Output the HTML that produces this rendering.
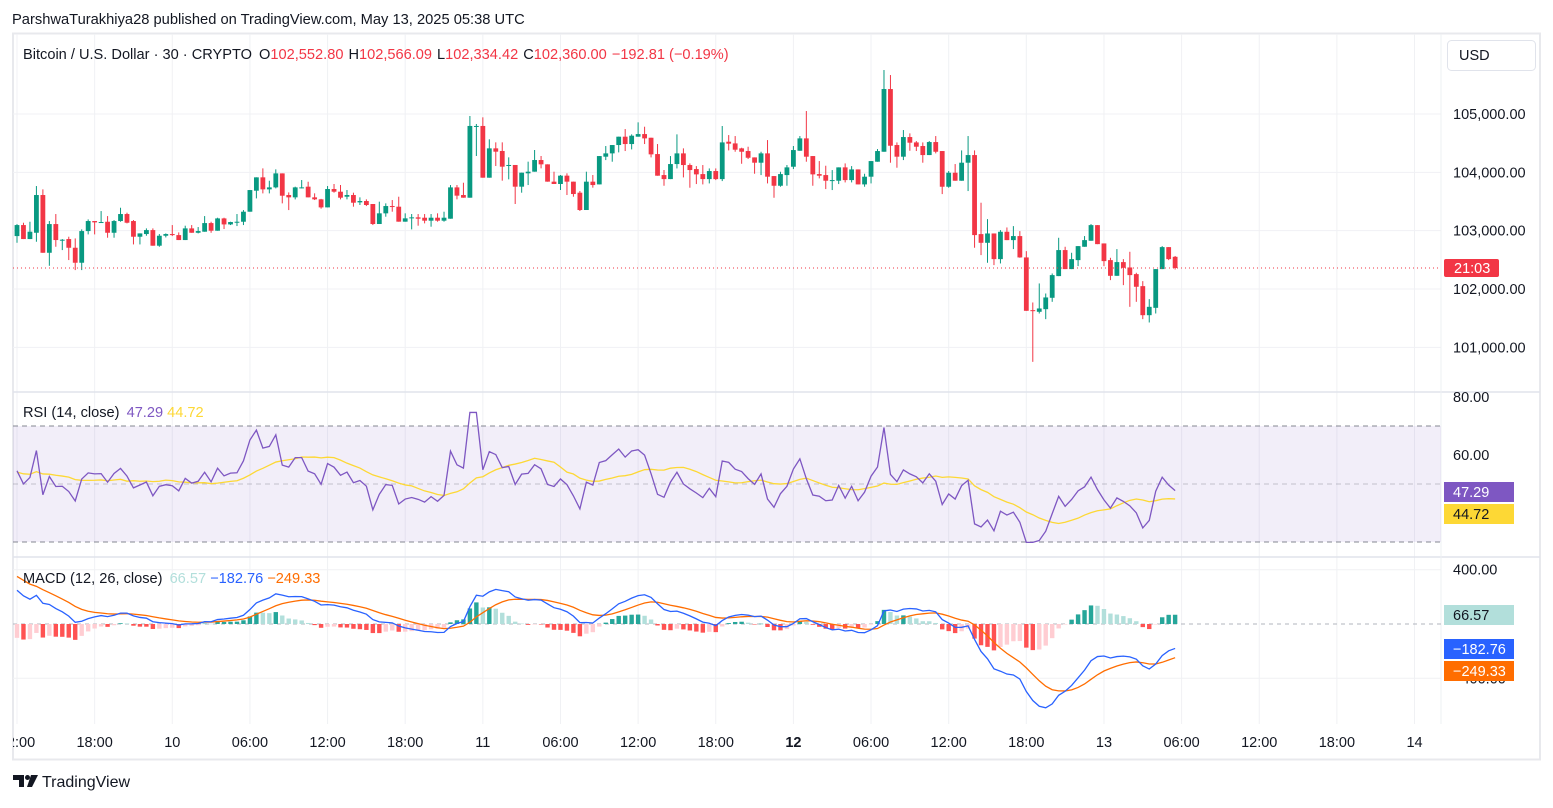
<!DOCTYPE html>
<html><head><meta charset="utf-8">
<style>
html,body{margin:0;padding:0;background:#fff;}
body{width:1553px;height:803px;overflow:hidden;font-family:"Liberation Sans","DejaVu Sans",sans-serif;}
svg text{font-family:"Liberation Sans","DejaVu Sans",sans-serif;}
</style></head>
<body>
<svg id="chart" width="1553" height="803" viewBox="0 0 1553 803" xmlns="http://www.w3.org/2000/svg">
<defs><clipPath id="plotclip"><rect x="13" y="34" width="1428" height="724"/></clipPath></defs>
<text x="12" y="24" font-size="14.7" fill="#131722">ParshwaTurakhiya28 published on TradingView.com, May 13, 2025 05:38 UTC</text>
<rect x="13" y="33.5" width="1527" height="726" fill="none" stroke="#e8e9ed" stroke-width="2"/>
<g id="grid"></g>
<g id="plot" clip-path="url(#plotclip)"></g>
<g id="axes"></g>
<g font-size="14.6">
<text x="23" y="59" fill="#131722">Bitcoin / U.S. Dollar · 30 · CRYPTO <tspan dx="3">O</tspan><tspan fill="#f23645">102,552.80</tspan><tspan dx="5">H</tspan><tspan fill="#f23645">102,566.09</tspan><tspan dx="5">L</tspan><tspan fill="#f23645">102,334.42</tspan><tspan dx="5">C</tspan><tspan fill="#f23645">102,360.00</tspan><tspan dx="5" fill="#f23645">−192.81 (−0.19%)</tspan></text>
</g>
<g font-size="14.6">
<text x="23" y="417" fill="#131722">RSI (14, close) <tspan dx="3" fill="#7e57c2">47.29</tspan><tspan dx="4" fill="#fdd835">44.72</tspan></text>
</g>
<g font-size="14.6">
<text x="23" y="583" fill="#131722">MACD (12, 26, close) <tspan dx="3" fill="#b2dfdb">66.57</tspan><tspan dx="4" fill="#2962ff">−182.76</tspan><tspan dx="4" fill="#ff6d00">−249.33</tspan></text>
</g>
<g>
<rect x="1447.5" y="40.5" width="88" height="30" rx="4" fill="#fff" stroke="#e0e3eb"/>
<text x="1459" y="60" font-size="14.5" fill="#131722">USD</text>
</g>
<g>
<path d="M13 775h11v12h-5v-7h-6z" fill="#131722"/>
<circle cx="27.5" cy="777.5" r="2.5" fill="#131722"/>
<path d="M31 775h7l-6 12h-5z" fill="#131722"/>
<text x="42" y="787" font-size="16" fill="#131722">TradingView</text>
</g>
</svg>
<script>
const opens=[102907,103096,102856,102964,103611,102621,103113,102839,102856,102707,102450,102993,103165,103142,103153,102964,103165,103285,103165,102896,102942,103010,102742,102913,102942,102924,102839,103039,102964,102982,103130,102999,103210,103107,103136,103153,103325,103685,103914,103708,103742,103982,103611,103571,103742,103754,103571,103537,103399,103714,103668,103582,103611,103485,103508,103457,103114,103297,103422,103411,103154,103228,103228,103222,103171,103222,103171,103205,103742,103611,103565,104795,104795,103908,104411,104366,104126,104126,103754,103983,104011,104211,104137,103840,103800,103943,103840,103651,103354,103840,103793,104268,104325,104468,104611,104485,104611,104656,104593,104313,103953,103884,104142,104325,104125,104056,103970,103884,104022,103884,104525,104496,104411,104365,104256,104165,104325,103936,103770,103953,104096,104370,104582,104279,103970,103953,103856,103856,104085,103867,104050,103793,103925,104182,104353,105428,104468,104268,104605,104513,104451,104296,104519,104365,103753,103993,103856,104165,104296,102941,102792,102952,102512,102981,102838,102907,102541,101637,101609,101654,101849,102221,102667,102341,102495,102724,102827,103095,102781,102495,102226,102461,102369,102255,102049,101551,101677,102341,102718,102552];
const highs=[103113,103136,103153,103765,103708,103165,103285,102856,102896,102867,103022,103193,103165,103336,103250,103182,103393,103308,103182,102953,103039,103039,102942,102953,103096,102970,103085,103096,103062,103250,103153,103222,103222,103153,103285,103353,103696,103914,104068,103856,104051,103982,103656,103754,103868,103839,103640,103545,103765,103800,103782,103697,103651,103571,103537,103457,103497,103468,103525,103582,103297,103285,103285,103285,103285,103297,103325,103782,103782,103822,104966,104829,104943,104566,104514,104514,104257,104126,103994,104183,104383,104280,104137,104011,103954,103983,103840,103680,104011,103954,104280,104451,104468,104611,104742,104651,104857,104782,104593,104485,104039,104279,104651,104411,104153,104107,104125,104067,104067,104794,104639,104622,104422,104439,104256,104353,104553,103936,104010,104125,104451,104622,105051,104279,104193,104113,104039,104085,104153,104107,104050,103976,104193,104399,105754,105668,104513,104725,104668,104536,104513,104536,104622,104365,104022,104142,104376,104622,104376,103479,103198,102952,103010,103055,103078,102992,102649,101769,102095,101923,102266,102878,102724,102621,102735,102907,103113,103095,102781,102535,102684,102512,102638,102278,102135,101826,102341,102735,102718,102566];
const lows=[102793,102856,102856,102810,102621,102398,102724,102667,102496,102324,102324,102936,102936,103136,102879,102879,103153,103125,102764,102764,102913,102742,102724,102884,102907,102839,102839,102964,102953,102982,102964,102999,103028,103096,103079,103096,103325,103553,103639,103639,103725,103468,103353,103536,103725,103571,103525,103377,103399,103651,103537,103537,103411,103440,103422,103096,103114,103239,103325,103154,103154,103022,103085,103125,103068,103154,103154,103205,103537,103565,103565,104280,103908,103908,104108,103857,103880,103457,103651,103782,104011,104068,103840,103800,103697,103611,103582,103337,103354,103737,103793,104210,104182,104342,104365,104393,104611,104485,104256,103942,103770,103884,104067,103913,103736,103799,103793,103810,103867,103850,104376,104353,104147,104228,103976,103953,103810,103564,103753,103770,104056,104370,104182,103770,103896,103713,103696,103799,103827,103827,103793,103753,103810,104182,104353,104165,104079,104210,104370,104365,104165,104296,104325,103627,103736,103856,103856,103679,102707,102581,102449,102409,102438,102838,102684,102535,101626,100751,101580,101483,101780,102221,102341,102341,102392,102724,102827,102769,102392,102152,102226,102066,101694,101780,101483,101426,101580,102341,102495,102334];
const closes=[103096,102856,102982,103611,102621,103113,102839,102845,102707,102450,102993,103165,103142,103148,102964,103165,103285,103136,102896,102953,103010,102742,102913,102942,102924,102839,103039,102964,102993,103130,102999,103210,103107,103148,103153,103325,103696,103914,103708,103742,103982,103599,103571,103742,103742,103571,103537,103399,103714,103668,103565,103611,103479,103508,103440,103114,103297,103422,103411,103154,103211,103228,103205,103171,103222,103171,103222,103742,103600,103565,104795,104795,103908,104411,104354,104097,104126,103754,103994,104011,104211,104137,103840,103800,103943,103840,103628,103354,103840,103782,104279,104325,104468,104611,104485,104628,104656,104582,104308,103942,103884,104142,104325,104125,104039,103965,103884,104022,103884,104513,104491,104388,104353,104250,104165,104325,103925,103770,103970,104085,104382,104582,104268,103965,103942,103856,103867,104085,103867,104050,103793,103925,104193,104365,105428,104456,104268,104605,104508,104439,104296,104519,104353,103753,103993,103856,104165,104296,102924,102792,102952,102512,102981,102838,102907,102541,101626,101626,101666,101855,102238,102667,102341,102512,102735,102838,103095,102769,102478,102226,102461,102363,102238,102038,101551,101694,102341,102718,102512,102360];
const priceTicks=[101000,102000,103000,104000,105000];
const priceTickLabels=["101,000.00","102,000.00","103,000.00","104,000.00","105,000.00"];
const timeTickIndex=[0,12,24,36,48,60,72,84,96,108,120,132,144,156,168,180,192,204,216];
const timeTickLabels=["12:00","18:00","10","06:00","12:00","18:00","11","06:00","12:00","18:00","12","06:00","12:00","18:00","13","06:00","12:00","18:00","14"];
const rsiTicks=[80,60];
const macdTicks=[400,-400];
const lastPrice=102360;
// indicator state carried in from before the visible window
const rsiSeedGain=120, rsiSeedLoss=100, rsiMaSeed=[56,55,54,53,52];
const ema12Seed=103150, ema26Seed=102877, signalSeed=376;

const NS="http://www.w3.org/2000/svg";
const plot=document.getElementById('plot'),grid=document.getElementById('grid'),axes=document.getElementById('axes');
const FS=14.5;
const xOf=i=>17+6.47*i;
const yP=p=>114+(105000-p)*0.05833;
const yR=v=>397+(80-v)*2.9;
const yM=v=>624-v*0.1357;
function mk(tag,attrs,parent){const e=document.createElementNS(NS,tag);for(const k in attrs)e.setAttribute(k,attrs[k]);parent.appendChild(e);return e;}

timeTickIndex.forEach((ti,k)=>{
  const x=xOf(ti);
  const g=mk('line',{x1:x,x2:x,y1:34,y2:724,stroke:'#f0f1f4','stroke-width':1},grid);
  
  
  const t=mk('text',{x:x,y:747,'font-size':FS,fill:'#131722','text-anchor':'middle','font-weight':timeTickLabels[k]==="12"?'bold':'normal'},plot);
  t.textContent=timeTickLabels[k];
  
  
});
priceTicks.forEach((p,k)=>{
  const y=yP(p);
  const g=mk('line',{x1:13,x2:1441,y1:y,y2:y,stroke:'#f0f1f4'},grid);
  
  
  const t=mk('text',{x:1453,y:y+5,'font-size':FS,fill:'#131722'},axes);
  t.textContent=priceTickLabels[k];
  
  
});
rsiTicks.forEach(v=>{
  const y=yR(v);
  const t=mk('text',{x:1453,y:y+5,'font-size':FS,fill:'#131722'},axes);
  t.textContent=v.toFixed(2);
  
  
});
macdTicks.forEach(v=>{
  const y=yM(v);
  const g=mk('line',{x1:13,x2:1441,y1:y,y2:y,stroke:'#f0f1f4'},grid);
  
  
  const t=mk('text',{x:1453,y:y+5,'font-size':FS,fill:'#131722'},axes);
  t.textContent=(v<0?'−':'')+Math.abs(v).toFixed(2);
  
  
});
[392,557].forEach(y=>{const l=mk('line',{x1:13,x2:1540,y1:y,y2:y,stroke:'#e0e3eb','stroke-width':1.5},grid);

});
const vs=mk('line',{x1:1441,x2:1441,y1:34,y2:724,stroke:'#eef0f3'},grid);



for(let i=0;i<closes.length;i++){
  const up=closes[i]>=opens[i];const col=up?'#089981':'#f23645';const x=xOf(i);
  const g=mk('g',{},plot);
  
  
  mk('line',{x1:x,x2:x,y1:yP(highs[i]),y2:yP(lows[i]),stroke:col,'stroke-width':1},g);
  const yt=yP(Math.max(opens[i],closes[i])),yb=yP(Math.min(opens[i],closes[i]));
  mk('rect',{x:x-2.4,y:yt,width:4.8,height:Math.max(1,yb-yt),fill:col},g);
}
const lp=mk('line',{x1:13,x2:1441,y1:yP(lastPrice),y2:yP(lastPrice),stroke:'#f23645','stroke-dasharray':'1 3','stroke-width':1},plot);


const lpb=mk('rect',{x:1444,y:yP(lastPrice)-9,width:55,height:18,rx:2,fill:'#f23645'},axes);


const lpt=mk('text',{x:1454,y:yP(lastPrice)+5,'font-size':FS,fill:'#fff'},axes);lpt.textContent='21:03';

// RSI
const rsi=[];let ag=rsiSeedGain,al=rsiSeedLoss;
for(let i=0;i<closes.length;i++){
  const d=i===0?0:closes[i]-closes[i-1];
  ag=(ag*13+Math.max(d,0))/14;al=(al*13+Math.max(-d,0))/14;
  rsi.push(al===0?100:100-100/(1+ag/al));
}
const rsiAll=rsiMaSeed.concat(rsi);
const rsiMa=rsi.map((v,i)=>{const j=i+rsiMaSeed.length;const s=rsiAll.slice(Math.max(0,j-13),j+1);return s.reduce((a,b)=>a+b,0)/s.length;});
const band=mk('rect',{x:13,y:yR(70),width:1428,height:yR(30)-yR(70),fill:'rgba(126,87,194,0.1)'},plot);


[70,50,30].forEach(v=>{const l=mk('line',{x1:13,x2:1441,y1:yR(v),y2:yR(v),stroke:'#787b86','stroke-dasharray':'5 4','stroke-opacity':v===50?0.4:0.9},plot);

});
function poly(arr,yf,col,name){const p=mk('polyline',{points:arr.map((v,i)=>xOf(i)+','+yf(v)).join(' '),fill:'none',stroke:col,'stroke-width':1.3},plot);

}
poly(rsiMa,yR,'#fdd835','rsi-ma-line');
poly(rsi,yR,'#7e57c2','rsi-line');

// MACD
function ema(a,n,seed){const k=2/(n+1);const o=[];let p=seed;a.forEach(v=>{p=v*k+p*(1-k);o.push(p);});return o;}
const e12=ema(closes,12,ema12Seed),e26=ema(closes,26,ema26Seed);
const macd=e12.map((v,i)=>v-e26[i]);const sig=ema(macd,9,signalSeed);const hist=macd.map((v,i)=>v-sig[i]);
const z=mk('line',{x1:13,x2:1441,y1:yM(0),y2:yM(0),stroke:'#b2b5be','stroke-dasharray':'4 4'},plot);


hist.forEach((h,i)=>{
  const prev=i>0?hist[i-1]:h;
  const col=h>=0?(h>=prev?'#26a69a':'#b2dfdb'):(h<prev?'#ff5252':'#ffcdd2');
  const y0=yM(0),y1=yM(h);
  const r=mk('rect',{x:xOf(i)-2.2,y:Math.min(y0,y1),width:4.4,height:Math.max(0.5,Math.abs(y1-y0)),fill:col},plot);
  
  
});
poly(sig,yM,'#ff6d00','macd-signal-line');
poly(macd,yM,'#2962ff','macd-line');

function tag(y,bg,fg,txt,name){const g=mk('g',{},axes);


mk('rect',{x:1444,y:y-10,width:70,height:20,fill:bg},g);const t=mk('text',{x:1453,y:y+5,'font-size':FS,fill:fg},g);t.textContent=txt;}
tag(492,'#7e57c2','#fff','47.29','rsi-value-label');
tag(514,'#fdd835','#131722','44.72','rsi-ma-value-label');
tag(615,'#b2dfdb','#131722','66.57','histogram-value-label');
tag(649,'#2962ff','#fff','−182.76','macd-value-label');
tag(671,'#ff6d00','#fff','−249.33','signal-value-label');
</script>
</body></html>
